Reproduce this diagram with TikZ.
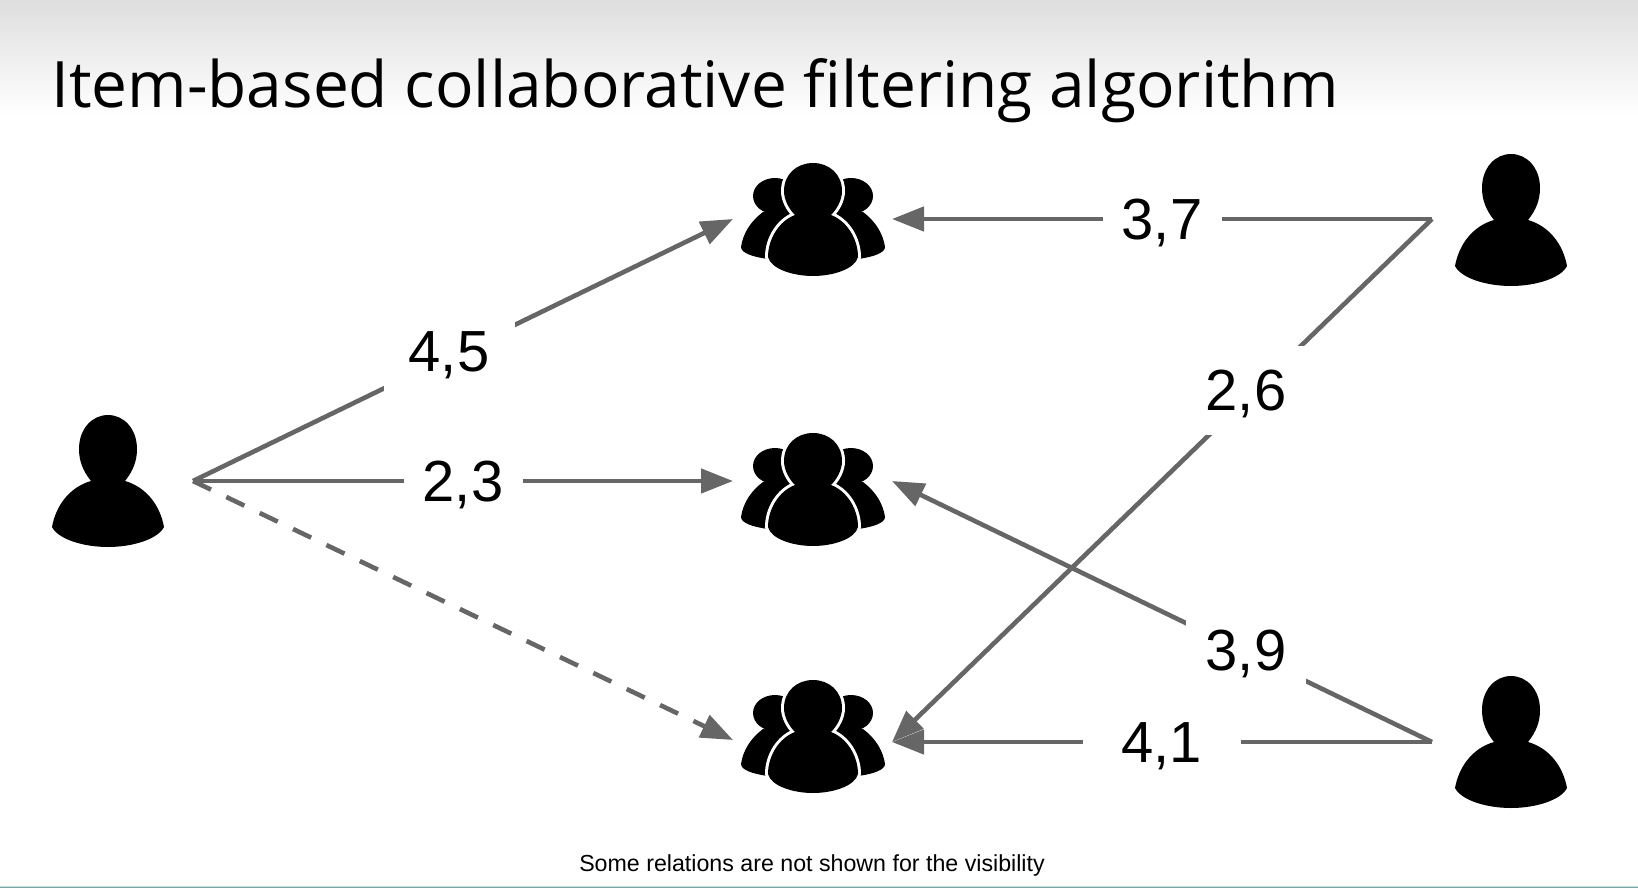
\documentclass[tikz,border=0pt]{standalone}
\usepackage{fontspec}
\setmainfont{Liberation Sans}
\newfontfamily\titlefont{Open Sans}
\usetikzlibrary{arrows.meta}
\definecolor{linkgray}{HTML}{666666}
\definecolor{topgray}{HTML}{DEDEDE}
\definecolor{midgray}{HTML}{F3F3F3}
\definecolor{stripdark}{HTML}{6FA9AC}
\definecolor{striplight}{HTML}{BFE3E3}
\tikzset{
  link/.style={draw=linkgray,line width=4.6pt,-{Triangle[length=32pt,width=24pt]}},
  rate/.style={fill=white,inner sep=0pt,text height=41pt,text depth=0pt,font=\fontsize{58}{62}\selectfont},
  person/.pic={
    \fill (-17,0) .. controls (-25,-10) and (-29,-20) .. (-29,-32)
      .. controls (-29,-52) and (-16,-66) .. (0,-66)
      .. controls (16,-66) and (29,-52) .. (29,-32)
      .. controls (29,-20) and (25,-10) .. (17,0)
      .. controls (38,6) and (52,24) .. (56,46)
      .. controls (50,58) and (25,66) .. (0,66)
      .. controls (-25,66) and (-50,58) .. (-56,46)
      .. controls (-52,24) and (-38,6) .. (-17,0) -- cycle;
  },
  crowd/.pic={
    \foreach \s in {-1,1} {
      \fill[xscale=\s] (-38,-19) ellipse (22 and 18);
      \fill[xscale=\s] (-50,-3) .. controls (-62,6) and (-70,18) .. (-72,32)
        .. controls (-72,38) and (-60,42) .. (-45,44) -- (-20,44) -- (-20,-10) -- cycle;
    }
    \path[fill=black,preaction={draw=white,line width=6pt}]
      (-18,0) .. controls (-24,-6) and (-29,-15) .. (-29,-24)
      .. controls (-29,-41) and (-16,-52) .. (0,-52)
      .. controls (16,-52) and (29,-41) .. (29,-24)
      .. controls (29,-15) and (24,-6) .. (18,0)
      .. controls (34,6) and (45,24) .. (45,42)
      .. controls (42,54) and (20,61) .. (0,61)
      .. controls (-20,61) and (-42,54) .. (-45,42)
      .. controls (-45,24) and (-34,6) .. (-18,0) -- cycle;
  }
}
\begin{document}
\begin{tikzpicture}[x=1pt,y=-1pt]
  \useasboundingbox (0,0) rectangle (1638,888);
  \shade[top color=topgray,middle color=midgray,bottom color=white] (0,0) rectangle (1638,115);
  \fill[striplight] (0,885.5) rectangle (1638,887);
  \fill[stripdark] (0,887) rectangle (1638,888);

  \node[anchor=base west,inner sep=0pt,font=\titlefont\fontsize{64}{70}\selectfont] (title) at (51,108) {Item-based collaborative filtering algorithm};

  % people and groups
  \pic at (108,481) {person};
  \pic at (1511,220) {person};
  \pic at (1511,742) {person};
  \pic at (813,215) {crowd};
  \pic at (813,485) {crowd};
  \pic at (813,732) {crowd};

  % ends of the links
  \coordinate (userL) at (193,481);
  \coordinate (userT) at (1432,219);
  \coordinate (userB) at (1432,742);
  \coordinate (crowdTl) at (733,219);
  \coordinate (crowdTr) at (892,219);
  \coordinate (crowdMl) at (733,481);
  \coordinate (crowdMr) at (892,481);
  \coordinate (crowdBl) at (733,740);
  \coordinate (crowdBr) at (892,742);

  \draw[link] (userL) -- (crowdTl);
  \draw[link] (userL) -- (crowdMl);
  \draw[link,dash pattern=on 20pt off 17pt] (userL) -- (crowdBl);
  \draw[link] (userT) -- (crowdTr);
  \draw[link] (userT) -- (crowdBr);
  \draw[link] (userB) -- (crowdMr);
  \draw[link] (userB) -- (crowdBr);

  % white boxes cut the gaps in the links
  \node[rate,minimum width=131pt,minimum height=80pt] (r45) at (449,351) {4,5};
  \node[rate,minimum width=119pt,minimum height=60pt] (r23) at (463,481) {2,3};
  \node[rate,minimum width=119pt,minimum height=60pt] (r37) at (1162,219) {3,7};
  \node[rate,minimum width=120pt,minimum height=89pt] (r26) at (1246,390) {2,6};
  \node[rate,minimum width=120pt,minimum height=70pt] (r39) at (1246,650) {3,9};
  \node[rate,minimum width=158pt,minimum height=60pt] (r41) at (1161.5,742) {4,1};

  \node[font=\fontsize{23.2}{26}\selectfont,inner sep=0pt] (note) at (812,865) {Some relations are not shown for the visibility};
\end{tikzpicture}
\end{document}
